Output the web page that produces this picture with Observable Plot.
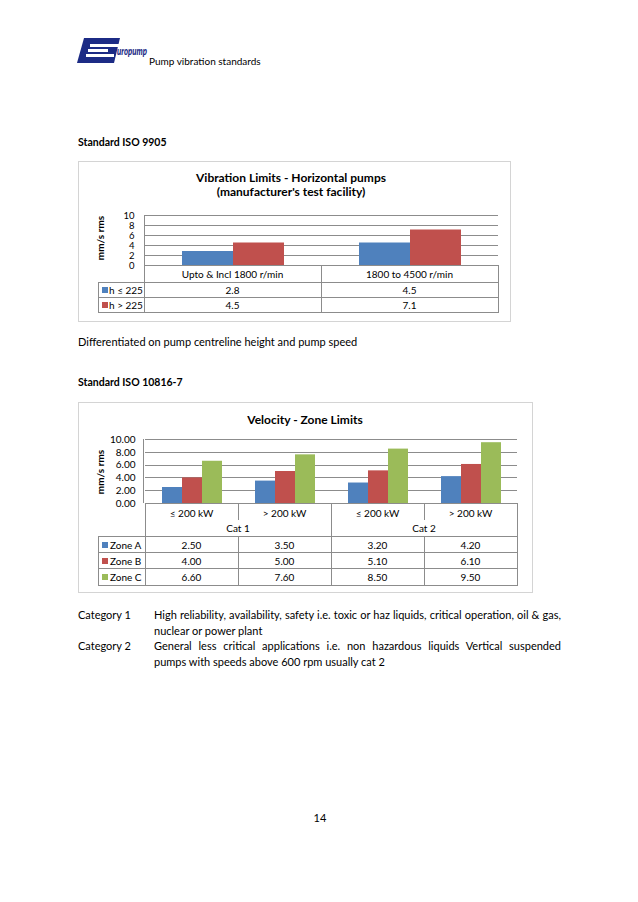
<!DOCTYPE html>
<html>
<head>
<meta charset="utf-8">
<script src="https://cdn.jsdelivr.net/npm/d3@7"></script>
<script src="https://cdn.jsdelivr.net/npm/@observablehq/plot@0.6"></script>
<style>
  html, body { margin: 0; padding: 0; background: #fff; }
  #page { position: relative; width: 638px; height: 902px; background: #fff; font-family: Lato, "Open Sans", sans-serif; color: #000; overflow: hidden; }
  .t { position: absolute; white-space: nowrap; line-height: 1; }
  .ln { position: absolute; background: #8c8c8c; }
  .box { position: absolute; border: 1px solid #d4d4d4; box-sizing: border-box; }
  .sw { position: absolute; width: 6px; height: 6px; }
</style>
</head>
<body>
<div id="page"></div>
<script>
// ---------------- DATA ----------------
const speedCats = ["Upto & Incl 1800 r/min", "1800 to 4500 r/min"];
const heightSeries = ["h ≤ 225", "h > 225"];
const hLowValues = [2.8, 4.5];
const hHighValues = [4.5, 7.1];
const yTicks1 = [0, 2, 4, 6, 8, 10];

const powerCats = ["≤ 200 kW", "> 200 kW", "≤ 200 kW", "> 200 kW"];
const catGroups = ["Cat 1", "Cat 2"];
const zoneSeries = ["Zone A", "Zone B", "Zone C"];
const zoneAValues = [2.50, 3.50, 3.20, 4.20];
const zoneBValues = [4.00, 5.00, 5.10, 6.10];
const zoneCValues = [6.60, 7.60, 8.50, 9.50];
const yTicks2 = [0, 2, 4, 6, 8, 10];

const seriesColors = ["#4F81BD", "#C0504D", "#9BBB59"];

// ---------------- HELPERS ----------------
const page = document.getElementById("page");
function txt(s, x, y, o = {}) {
  const d = document.createElement("div");
  d.className = "t";
  d.textContent = s;
  d.style.left = x + "px";
  d.style.top = y + "px";
  d.style.fontSize = (o.size || 11) + "px";
  if (o.bold) d.style.fontWeight = "bold";
  if (o.color) d.style.color = o.color;
  const ax = o.anchor === "middle" ? "-50%" : o.anchor === "end" ? "-100%" : "0";
  d.style.transform = `translate(${ax},-50%)`;
  if (o.rotate) { d.style.transform = `translate(-50%,-50%) rotate(${o.rotate}deg)`; }
  if (o.width) { d.style.width = o.width + "px"; d.style.textAlign = "justify"; d.style.textAlignLast = o.justify ? "justify" : "left"; }
  page.appendChild(d);
  return d;
}
function hline(x1, x2, y, c) {
  const d = document.createElement("div"); d.className = "ln";
  d.style.left = x1 + "px"; d.style.top = y + "px"; d.style.width = (x2 - x1 + 1) + "px"; d.style.height = "1px";
  if (c) d.style.background = c;
  page.appendChild(d);
}
function vline(x, y1, y2, c) {
  const d = document.createElement("div"); d.className = "ln";
  d.style.left = x + "px"; d.style.top = y1 + "px"; d.style.width = "1px"; d.style.height = (y2 - y1 + 1) + "px";
  if (c) d.style.background = c;
  page.appendChild(d);
}
function box(x1, y1, x2, y2) {
  const d = document.createElement("div"); d.className = "box";
  d.style.left = x1 + "px"; d.style.top = y1 + "px"; d.style.width = (x2 - x1) + "px"; d.style.height = (y2 - y1) + "px";
  page.appendChild(d);
}
function swatch(x, y, c) {
  const d = document.createElement("div"); d.className = "sw";
  d.style.left = x + "px"; d.style.top = (y - 3) + "px"; d.style.background = c;
  page.appendChild(d);
}

function barChart({left, top, width, height, mL, mR, mT, mB, groups, series, values, ticks, fmt, tickSize}) {
  const data = [];
  groups.forEach((g, i) => series.forEach((s, j) => data.push({g: i, s, v: values[j][i]})));
  const plot = Plot.plot({
    width, height, marginLeft: mL, marginRight: mR, marginTop: mT, marginBottom: mB,
    style: {fontFamily: "Lato, sans-serif", fontSize: "10px", color: "#000", background: "transparent", overflow: "visible"},
    fx: {domain: groups.map((_, i) => i), padding: 0, axis: null},
    x: {domain: series, paddingInner: 0, paddingOuter: 0.735, axis: null},
    y: {domain: [0, 10], axis: null},
    color: {domain: series, range: seriesColors},
    marks: [
      Plot.gridY(ticks, {stroke: "#8c8c8c", strokeOpacity: 1, shapeRendering: "crispEdges"}),
      Plot.barY(data, {fx: "g", x: "s", y: "v", fill: "s"}),
      Plot.axisY(ticks, {tickSize: 0, tickPadding: 10, tickFormat: fmt, fontSize: tickSize, fill: "#000", label: null})
    ]
  });
  plot.style.position = "absolute";
  plot.style.left = left + "px";
  plot.style.top = top + "px";
  const y = plot.scale("y");
  d3.select(plot).append("line")
    .attr("x1", mL + 0.5).attr("x2", mL + 0.5)
    .attr("y1", y.apply(10)).attr("y2", y.apply(0))
    .attr("stroke", "#8c8c8c");
  page.appendChild(plot);
  const fx = plot.scale("fx");
  const edges = groups.map((_, i) => left + fx.apply(i));
  edges.push(left + fx.apply(groups.length - 1) + fx.bandwidth);
  return {plot, edges, y0: top + y.apply(0)};
}

// ---------------- PAGE HEADER ----------------
(function logo() {
  const ns = "http://www.w3.org/2000/svg";
  const s = document.createElementNS(ns, "svg");
  s.setAttribute("width", 80); s.setAttribute("height", 30);
  s.style.position = "absolute"; s.style.left = "76px"; s.style.top = "36px";
  s.innerHTML = `
    <polygon points="8,2 44,2 38,27 1,27" fill="#1c2b85"/>
    <rect x="14" y="8" width="30" height="3" fill="#fff"/>
    <rect x="12" y="13" width="20" height="3" fill="#fff"/>
    <rect x="10" y="18" width="28" height="3" fill="#fff"/>
    <text x="41" y="19" font-family="Lato, sans-serif" font-weight="900" font-style="italic" font-size="10.5" textLength="30" lengthAdjust="spacingAndGlyphs" fill="#1c2b85">uropump</text>`;
  page.appendChild(s);
})();
txt("Pump vibration standards", 149, 60.5, {size: 10});

// ---------------- CHART 1 ----------------
txt("Standard ISO 9905", 78, 142, {size: 10.5, bold: true});
box(78, 161, 511, 322);
txt("Vibration Limits - Horizontal pumps", 291, 178, {size: 12, bold: true, anchor: "middle"});
txt("(manufacturer's test facility)", 291, 192, {size: 12, bold: true, anchor: "middle"});
txt("mm/s rms", 100, 238, {size: 10, bold: true, rotate: -90});

const c1 = barChart({
  left: 78, top: 161, width: 432, height: 160, mL: 66, mR: 12, mT: 54, mB: 56,
  groups: speedCats, series: heightSeries, values: [hLowValues, hHighValues],
  ticks: yTicks1, fmt: d3.format("d"), tickSize: 9.5
});
{
  const e = c1.edges, y0 = c1.y0, lx = 98;
  const rows = [y0, y0 + 17, y0 + 32, y0 + 47];
  for (let r = 1; r < rows.length; r++) hline(lx, e[e.length - 1], rows[r]);
  vline(lx, rows[1], rows[3]);
  e.forEach(x => vline(Math.round(x), rows[0], rows[3]));
  speedCats.forEach((c, i) => txt(c, (e[i] + e[i + 1]) / 2, (rows[0] + rows[1]) / 2 + 0.5, {size: 10, anchor: "middle"}));
  const vals = [hLowValues, hHighValues];
  heightSeries.forEach((s, j) => {
    const yc = (rows[j + 1] + rows[j + 2]) / 2 + 0.5;
    swatch(102, yc, seriesColors[j]);
    txt(s, 109, yc, {size: 10});
    vals[j].forEach((v, i) => txt(d3.format(".1f")(v), (e[i] + e[i + 1]) / 2, yc, {size: 10, anchor: "middle"}));
  });
}
txt("Differentiated on pump centreline height and pump speed", 78, 341, {size: 11});

// ---------------- CHART 2 ----------------
txt("Standard ISO 10816-7", 78, 382, {size: 10.5, bold: true});
box(78, 402, 533, 593);
txt("Velocity - Zone Limits", 305, 420, {size: 12, bold: true, anchor: "middle"});
txt("mm/s rms", 100, 472, {size: 10, bold: true, rotate: -90});

const c2 = barChart({
  left: 78, top: 402, width: 454, height: 190, mL: 65, mR: 14, mT: 37, mB: 89,
  groups: powerCats, series: zoneSeries, values: [zoneAValues, zoneBValues, zoneCValues],
  ticks: yTicks2, fmt: d3.format(".2f"), tickSize: 10
});
{
  const e = c2.edges.map(Math.round), y0 = c2.y0, lx = 98;
  const rows = [y0, y0 + 33, y0 + 49, y0 + 65, y0 + 82];
  for (let r = 1; r < rows.length; r++) hline(lx, e[e.length - 1], rows[r]);
  vline(lx, rows[1], rows[4]);
  e.forEach((x, i) => vline(x, i % 2 === 1 ? rows[1] : rows[0], rows[4]));
  [1, 3].forEach(i => vline(e[i], rows[0], rows[0] + 16));
  powerCats.forEach((c, i) => txt(c, (e[i] + e[i + 1]) / 2, rows[0] + 9.5, {size: 10, anchor: "middle"}));
  catGroups.forEach((c, k) => txt(c, (e[2 * k] + e[2 * k + 2]) / 2, rows[0] + 24.5, {size: 10, anchor: "middle"}));
  const vals = [zoneAValues, zoneBValues, zoneCValues];
  zoneSeries.forEach((s, j) => {
    const yc = (rows[j + 1] + rows[j + 2]) / 2 + 0.5;
    swatch(102, yc, seriesColors[j]);
    txt(s, 110, yc, {size: 10});
    vals[j].forEach((v, i) => txt(d3.format(".2f")(v), (e[i] + e[i + 1]) / 2, yc, {size: 10, anchor: "middle"}));
  });
}

// ---------------- NOTES ----------------
txt("Category 1", 78, 614, {size: 11});
txt("High reliability, availability, safety i.e. toxic or haz liquids, critical operation, oil & gas,", 154, 614, {size: 11, width: 407, justify: true});
txt("nuclear or power plant", 154, 629.5, {size: 11});
txt("Category 2", 78, 645, {size: 11});
txt("General less critical applications i.e. non hazardous liquids Vertical suspended", 154, 645, {size: 11, width: 407, justify: true});
txt("pumps with speeds above 600 rpm usually cat 2", 154, 660.5, {size: 11});

txt("14", 320, 817, {size: 11, anchor: "middle"});
</script>
</body>
</html>
